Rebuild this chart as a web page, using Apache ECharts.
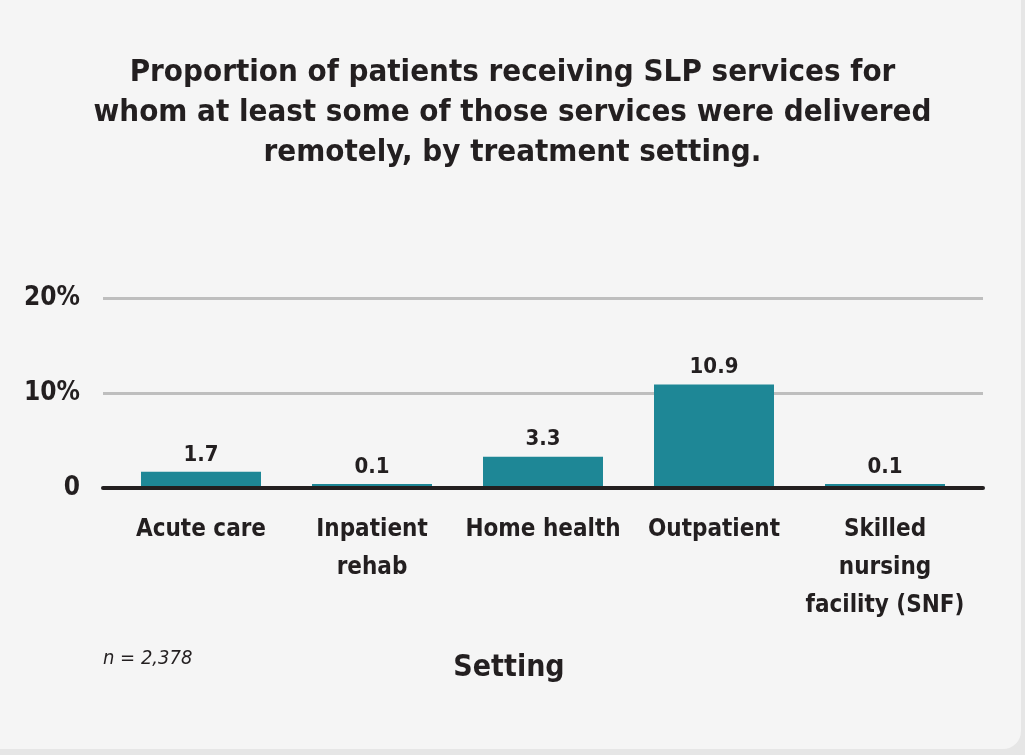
<!DOCTYPE html>
<html>
<head>
<meta charset="utf-8">
<script src="https://cdn.jsdelivr.net/npm/echarts@6/dist/echarts.min.js"></script>
<style>
  html, body { margin: 0; padding: 0; width: 1025px; height: 755px; background: #e6e6e6; overflow: hidden; }
  #card { position: absolute; left: 0; top: 0; width: 1021px; height: 749px; background: #f5f5f5; border-radius: 0 0 18px 0; }
  #chart { position: absolute; left: 0; top: 0; width: 1025px; height: 755px; }
</style>
</head>
<body>
<div id="card"></div>
<div id="chart"></div>
<script>
const titleText = 'Proportion of patients receiving SLP services for\nwhom at least some of those services were delivered\nremotely, by treatment setting.';
const categories = ['Acute care', 'Inpatient\nrehab', 'Home health', 'Outpatient', 'Skilled\nnursing\nfacility (SNF)'];
const values = [1.7, 0.1, 3.3, 10.9, 0.1];
const yTicks = [0, 10, 20];
const axisTitle = 'Setting';
const noteText = 'n = 2,378';

const FONT = '"Liberation Sans Narrow", "DejaVu Sans Condensed", sans-serif';
const chart = echarts.init(document.getElementById('chart'), null, { renderer: 'canvas' });

chart.setOption({
  backgroundColor: 'transparent',
  animation: false,
  title: {
    text: titleText,
    left: 'center',
    top: 48,
    textStyle: { fontFamily: FONT, fontSize: 31, fontWeight: 'bold', color: '#231f20', lineHeight: 40 }
  },
  grid: [
    { left: 103, right: 42, top: 298, bottom: 267 },
    { left: 115.5, right: 54.5, top: 298, bottom: 267 }
  ],
  xAxis: [
    {
      gridIndex: 0, type: 'category', data: [''],
      axisLabel: { show: false }, axisTick: { show: false },
      axisLine: { show: true, lineStyle: { color: '#231f20', width: 4 } },
      z: 5
    },
    {
      gridIndex: 1, type: 'category', data: categories,
      axisTick: { show: false }, axisLine: { show: false },
      axisLabel: {
        interval: 0, margin: 23,
        fontFamily: FONT, fontSize: 24, fontWeight: 'bold', color: '#231f20', lineHeight: 38
      }
    }
  ],
  yAxis: [
    {
      gridIndex: 0, type: 'value', min: yTicks[0], max: yTicks[yTicks.length - 1], interval: 10,
      axisLine: { show: false }, axisTick: { show: false },
      splitLine: { show: true, lineStyle: { color: '#bebebe', width: 3 } },
      axisLabel: {
        margin: 23, fontFamily: FONT, fontSize: 26, fontWeight: 'bold', color: '#231f20',
        formatter: v => v === 0 ? '0' : v + '%'
      }
    },
    {
      gridIndex: 1, type: 'value', min: yTicks[0], max: yTicks[yTicks.length - 1], interval: 10,
      show: false, splitLine: { show: false }
    }
  ],
  series: [{
    type: 'bar',
    xAxisIndex: 1, yAxisIndex: 1,
    data: values,
    barWidth: 120,
    barMinHeight: 4,
    itemStyle: { color: '#1e8796' },
    label: {
      show: true, position: 'top', distance: 6,
      fontFamily: FONT, fontSize: 22, fontWeight: 'bold', color: '#231f20',
      formatter: p => p.value.toFixed(1)
    },
    z: 3
  }],
  graphic: [
    {
      type: 'text', left: 103, top: 649,
      style: { text: noteText, fontFamily: FONT, fontSize: 20, fontStyle: 'italic', fill: '#231f20' }
    },
    {
      type: 'text', x: 509, y: 668,
      style: { text: axisTitle, fontFamily: FONT, fontSize: 30, fontWeight: 'bold', fill: '#231f20',
               align: 'center', verticalAlign: 'middle' }
    }
  ]
});
</script>
</body>
</html>
